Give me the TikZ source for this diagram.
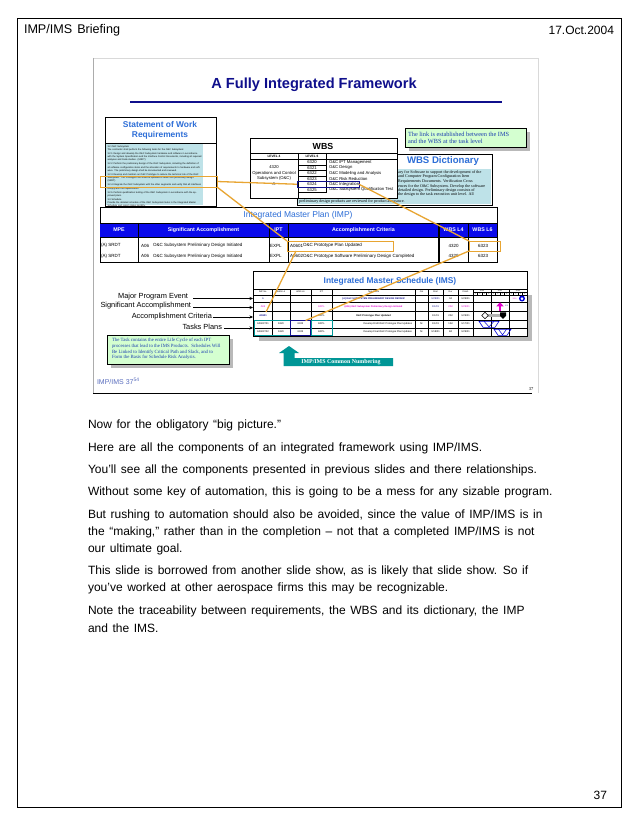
\documentclass[tikz,border=0pt]{standalone}
\usepackage{fontspec}
\setmainfont{Liberation Sans}
\newfontfamily\serifF{Liberation Serif}
\usetikzlibrary{calc,arrows.meta,shapes.geometric}
\definecolor{navyT}{RGB}{15,15,140}
\definecolor{blueT}{RGB}{45,110,215}
\definecolor{orangeL}{RGB}{232,165,50}
\definecolor{tealA}{RGB}{0,150,150}
\definecolor{tealL}{RGB}{190,226,232}
\definecolor{greenC}{RGB}{212,255,208}
\definecolor{impBlue}{RGB}{10,10,235}
\definecolor{callTxt}{RGB}{25,60,175}
\definecolor{pinkT}{RGB}{225,0,205}
\definecolor{labBlue}{RGB}{90,110,190}
\newcommand{\myfz}[1]{\fontsize{#1}{#1}\selectfont}
\newcommand{\bodyfont}{\fontsize{12}{14}\selectfont\spaceskip=4.6pt\relax}
\newcommand{\hdrfont}{\fontsize{12.6}{14}\selectfont\spaceskip=5pt\relax}
\begin{document}
\begin{tikzpicture}[x=1pt,y=-1pt,
  every node/.style={inner sep=0pt, outer sep=0pt},
  tx/.style={inner sep=0pt, outer sep=0pt},
  bx/.style={draw=black, line width=0.6pt, anchor=north west, inner sep=0pt, outer sep=0pt},
  link/.style={draw=orangeL, line width=1.3pt},
  hl/.style={draw=orangeL, line width=0.9pt, anchor=north west, inner sep=0pt, outer sep=0pt},
  lbl/.style={anchor=east, font=\myfz{7.4}},
  arr/.style={line width=0.5pt, -{Stealth[length=3.5pt,width=3pt]}},
  body/.style={anchor=west, font=\bodyfont},
  itx/.style={font=\myfz{2.5}},
  grid/.style={line width=0.35pt},
]
\path[use as bounding box] (0,0) rectangle (638,826);
\fill[white] (0,0) rectangle (638,826);

% page frame and header
\draw[line width=0.8pt] (17,18) rectangle (621,807);
\node[body, font=\hdrfont] (hdrL) at (24,30) {IMP/IMS Briefing};
\node[body, anchor=east, font=\myfz{12}] (hdrR) at (614,30) {17.Oct.2004};
\node[body, anchor=east] (pgno) at (607,795) {37};

% slide frame
\draw[gray!30, line width=0.8pt] (93,58) -- (538,58) -- (538,393);
\draw[gray!65, line width=1pt] (93,58) -- (93,393);
\draw[line width=0.8pt] (93,393) -- (532,393);
\node[tx, font=\serifF\myfz{4.5}] (slno) at (531,389) {37};

% title
\node[tx, font=\bfseries\myfz{14.6}, text=navyT] (title) at (314,85) {A Fully Integrated Framework};
\draw[navyT, line width=1.6pt] (130,102) -- (502,102);

% Statement of work
\node[bx, fill=white, minimum width=111pt, minimum height=89pt] (sow) at (105,117) {};
\node[tx, font=\bfseries\fontsize{8.4}{9.8}\selectfont, text=blueT, align=center] (sowt) at (160,130) {Statement of Work\\Requirements};
\draw[line width=0.6pt] (105,143) -- (216,143);
\fill[tealL] (106,144) rectangle (203,205);
\node[tx, anchor=north west, text width=94pt, align=left, font=\fontsize{2.35}{3.15}\selectfont] (sowtxt) at (107.5,145.5) {3.2 O\&C Subsystem\par
The contractor shall perform the following tasks for the O\&C Subsystem:\par\vspace{1pt}
3.2.1 Design and develop the O\&C Subsystem hardware and software in accordance with the System Specification and the Interface Control Documents, including all required analyses and trade studies. (SRDT)\par\vspace{1pt}
3.2.2 Perform the preliminary design of the O\&C Subsystem, including the definition of all software configuration items and the allocation of requirements to hardware and software. The preliminary design shall be documented and reviewed.\par\vspace{1pt}
3.2.3 Develop and maintain an O\&C Prototype to reduce the technical risk of the O\&C Subsystem. The Prototype Plan shall be updated to reflect the preliminary design. (SRDT)\par\vspace{1pt}
3.2.4 Integrate the O\&C Subsystem with the other segments and verify that all interfaces comply with the requirements.\par\vspace{1pt}
3.2.5 Perform qualification testing of the O\&C Subsystem in accordance with the approved plans.\par\vspace{1pt}
3.3 Schedule\par
Provide the detailed schedule of the O\&C Subsystem tasks in the Integrated Master Schedule and report status monthly.};
\node[hl, minimum width=117pt, minimum height=11pt] (sowhl) at (100,176) {};

% WBS dictionary (behind WBS)
\node[bx, fill=white, minimum width=195pt, minimum height=51pt] (dict) at (297,154) {};
\fill[tealL] (298,169) rectangle (491,204.4);
\node[tx, font=\bfseries\myfz{9.6}, text=blueT] (dictt) at (443,161) {WBS Dictionary};
\begin{scope}[every node/.style={inner sep=0pt, anchor=west, font=\serifF\myfz{4.1}}]
\node (d1) at (398,172) {ary for Software to support the development of the};
\node (d2) at (398,177) {and Computer Program Configuration Item};
\node (d3) at (398,181.5) {Requirements Documents. Verification Cross};
\node (d4) at (398,186) {ences for the O\&C Subsystem. Develop the software};
\node (d5) at (398,190.5) {detailed design. Preliminary design consists of};
\node (d6) at (398,195) {the design to the task execution unit level. All};
\node (d7) at (299,201.3) {preliminary design products are reviewed for product assurance.};
\end{scope}

% WBS
\node[bx, fill=white, minimum width=147pt, minimum height=60pt] (wbs) at (250,138) {};
\node[tx, font=\bfseries\myfz{8.8}] (wbst) at (323,146) {WBS};
\draw[line width=0.6pt] (250,153) -- (397,153);
\draw[line width=0.6pt] (250,159) -- (397,159);
\draw[line width=0.6pt] (298,153) -- (298,198);
\draw[line width=0.6pt] (326,153) -- (326,159);
\node[tx, font=\bfseries\myfz{3.2}] (wl4) at (274,156) {LEVEL 4};
\node[tx, font=\bfseries\myfz{3.2}] (wl6) at (312,156) {LEVEL 6};
\node[tx, font=\fontsize{4.2}{5.5}\selectfont, align=center, anchor=north] (wl4t) at (274,166) {4320\\Operations and Control\\Subsystem (O\&C)\\A};
\foreach \c/\d [count=\i] in {6320/O\&C IPT Management, 6321/O\&C Design, 6322/O\&C Modeling and Analysis, 6323/O\&C Risk Reduction, 6324/O\&C Integration, 6325/O\&C Subsystem Qualification Test}{
  \pgfmathsetmacro{\yy}{159.5+5.5*\i}
  \draw[line width=0.5pt] (298,\yy) -- (326,\yy) -- (326,\yy-5.5);
  \node[tx, font=\myfz{4.2}] (wc\i) at (312,\yy-2.75) {\c};
  \node[tx, anchor=west, font=\myfz{4.2}] (wd\i) at (329,\yy-2.75) {\d};
}
\node[draw=navyT, line width=0.8pt, anchor=north west, minimum width=62pt, minimum height=5.5pt] (w6323) at (297,181.5) {};

% callout top right
\fill[gray!55] (409,132) rectangle (530,151);
\node[bx, fill=greenC, minimum width=121pt, minimum height=19pt] (call1) at (405,128) {};
\node[tx, anchor=west, align=left, font=\serifF\fontsize{6.3}{7.2}\selectfont, text=callTxt] (call1t) at (408,137.5) {The link is established between the IMS\\and the WBS at the task level};

% IMP
\node[bx, fill=white, minimum width=397pt, minimum height=55pt] (imp) at (100,207) {};
\node[tx, font=\myfz{8.5}, text=blueT] (impt) at (298,215.5) {Integrated Master Plan (IMP)};
\fill[impBlue] (100,223) rectangle (497,237);
\draw[line width=0.6pt] (100,223) -- (497,223);
\draw[line width=0.6pt] (100,237) -- (497,237);
\foreach \x in {138,269,288,468} \draw[line width=0.6pt] (\x,223) -- (\x,262);
\draw[line width=1.4pt] (439,223) -- (439,262);
\foreach \x/\t [count=\i] in {119/MPE, 203.5/Significant Accomplishment, 278.5/IPT, 363.5/Accomplishment Criteria, 453.5/WBS L4, 482.5/WBS L6}
  \node[tx, text=white, font=\bfseries\myfz{5.3}] (imph\i) at (\x,230) {\t};
\begin{scope}[every node/.style={inner sep=0pt, font=\myfz{4.5}}]
\foreach \y/\a/\b [count=\i] in {245.5/A0601/O\&C Prototype Plan Updated, 256/A0602/O\&C Prototype Software Preliminary Design Completed}{
  \node[anchor=west] (ip\i a) at (101,\y) {(A) SRDT};
  \node[anchor=west] (ip\i b) at (141,\y) {A06};
  \node[anchor=west] (ip\i c) at (153,\y) {O\&C Subsystem Preliminary Design Initiated};
  \node[anchor=west] (ip\i d) at (270,\y) {EXPL};
  \node[anchor=west] (ip\i e) at (290,\y) {\a};
  \node[anchor=west] (ip\i f) at (303,\y) {\b};
  \node (ip\i g) at (453.5,\y) {4320};
  \node (ip\i h) at (483,\y) {6323};
}
\end{scope}
\node[hl, minimum width=106pt, minimum height=10pt] (a0601hl) at (287,241) {};
\node[hl, minimum width=31pt, minimum height=10pt] (l6hl) at (469,241) {};

% IMS
\fill[gray!55] (259,295) rectangle (532,341);
\node[bx, fill=white, minimum width=274pt, minimum height=65pt] (ims) at (253,271) {};
\node[tx, font=\bfseries\myfz{8.4}, text=blueT] (imst) at (390,281) {Integrated Master Schedule (IMS)};
\foreach \y in {289,295,302,311,320,328} \draw[grid] (253,\y) -- (527,\y);
\foreach \x in {272,290,311,332,415,428,443,458,473,491,509} \draw[grid] (\x,289) -- (\x,336);
\draw[grid] (473,292) -- (527,292);
\foreach \k in {1,2,3,5,6,7,9,10,11} \draw[line width=0.2pt] (473+4.5*\k,292) -- (473+4.5*\k,295);
\foreach \x/\t [count=\i] in {482/2000, 500/2001, 518/2002} \node[tx, font=\myfz{1.9}] (gy\i) at (\x,290.6) {\t};
\foreach \k in {0,...,11}{
  \pgfmathtruncatemacro{\q}{mod(\k,4)+1}
  \node[tx, font=\myfz{1.8}] (gq\k) at (475.25+4.5*\k,293.6) {\q};
}
\foreach \x/\t [count=\i] in {263/IMP No., 281/WBS L4, 300.5/WBS L6, 321.5/IPT, 373.5/Task Name, 421.5/Cat, 435.5/Start, 450.5/Dur, 465.5/Finish}
  \node[tx, font=\myfz{2.2}] (ih\i) at (\x,292) {\t};
% row 1
\node[tx, itx, text=navyT] (i1a) at (263,298.5) {A};
\node[tx, font=\bfseries\myfz{2.4}, text=navyT] (i1t) at (373.5,298.5) {(A) O\&C SUBSYSTEM PRELIMINARY DESIGN REVIEW};
\node[tx, itx, text=navyT] (i1s) at (435.5,298.5) {1/29/01};
\node[tx, itx] (i1d) at (450.5,298.5) {0d};
\node[tx, itx] (i1f) at (465.5,298.5) {1/29/01};
% row 2
\node[tx, itx, text=pinkT] (i2a) at (263,306.5) {A06};
\node[tx, itx, text=pinkT] (i2i) at (321.5,306.5) {EXPL};
\node[tx, font=\bfseries\myfz{2.4}, text=pinkT] (i2t) at (373.5,306.5) {(A06) O\&C Subsystem Preliminary Design Initiated};
\node[tx, itx, text=navyT] (i2s) at (435.5,306.5) {1/1/01};
\node[tx, itx, text=pinkT] (i2d) at (450.5,306.5) {20d};
\node[tx, itx, text=pinkT] (i2f) at (465.5,306.5) {1/29/01};
% row 3
\node[tx, font=\bfseries\myfz{2.5}, text=navyT] (i3a) at (263,315.5) {A0601};
\node[tx, itx] (i3i) at (321.5,315.5) {EXPL};
\node[tx, font=\bfseries\myfz{2.5}] (i3t) at (373.5,315.5) {O\&C Prototype Plan Updated};
\node[tx, itx] (i3s) at (435.5,315.5) {1/1/01};
\node[tx, itx] (i3d) at (450.5,315.5) {20d};
\node[tx, itx] (i3f) at (465.5,315.5) {1/29/01};
% rows 4,5
\foreach \y/\a/\t/\s/\d/\f [count=\i from 4] in {324/A0601T01/Develop Draft O\&C Prototype Plan Updates/{1/1/01}/12d/{1/17/01}, 332/A0601T02/Develop Final O\&C Prototype Plan Updates/{1/18/01}/8d/{1/29/01}}{
  \node[tx, itx] (i\i a) at (263,\y) {\a};
  \node[tx, itx] (i\i b) at (281,\y) {6320};
  \node[tx, itx] (i\i c) at (300.5,\y) {6323};
  \node[tx, itx] (i\i e) at (321.5,\y) {EXPL};
  \node[tx, itx, anchor=east] (i\i t) at (412,\y) {\t};
  \node[tx, itx] (i\i m) at (421.5,\y) {M};
  \node[tx, itx] (i\i s) at (435.5,\y) {\s};
  \node[tx, itx] (i\i d) at (450.5,\y) {\d};
  \node[tx, itx] (i\i f) at (465.5,\y) {\f};
}
\node[draw=tealA, line width=0.7pt, anchor=north west, minimum width=36pt, minimum height=15pt] (imsT1) at (254,320.5) {};
\node[draw=navyT, line width=0.7pt, anchor=north west, minimum width=20pt, minimum height=15pt] (imsN) at (290.5,320.5) {};
\node[draw=tealA, line width=0.7pt, anchor=north west, minimum width=20.5pt, minimum height=15pt] (imsT2) at (311.5,320.5) {};
\node[anchor=north west, minimum width=18pt, minimum height=9pt] (imsA) at (254,311) {};
% gantt symbols
\fill[blue!85!black] (522,298.5) circle (3);
\node[star, star points=5, star point ratio=2.2, fill=white, minimum size=3.6pt, inner sep=0pt] (gstar) at (522,298.6) {};
\node[tx, font=\myfz{1.9}, text=pinkT] (g1t) at (514.5,298.5) {1/29};
\fill[pinkT] (496.3,306.3) -- (500,302.3) -- (503.7,306.3) -- cycle;
\fill[pinkT] (498.6,306.2) rectangle (501.4,310.5);
\node[tx, font=\myfz{1.9}, text=navyT] (g2t) at (506.5,305.5) {1/1};
\fill[gray!60] (486,314) rectangle (501,317.2);
\draw[fill=white, line width=0.5pt] (485,312.3) -- (488.2,315.5) -- (485,318.7) -- (481.8,315.5) -- cycle;
\fill (500,312.3) -- (506,312.3) -- (506,315.8) -- (503,319) -- (500,315.8) -- cycle;
\draw[blue!85!black, line width=0.6pt] (479,321.3) -- (499,321.3) -- (495,327.3) -- (483,327.3) -- cycle;
\draw[blue!85!black, line width=0.5pt] (484,321.3) -- (489,326.8) -- (494,321.3);
\draw[blue!85!black, line width=0.6pt] (494,329.3) -- (511,329.3) -- (507,335.3) -- (498,335.3) -- cycle;
\draw[blue!85!black, line width=0.5pt] (498.5,329.3) -- (502.5,334.8) -- (506.5,329.3);

% left labels and arrows
\node[lbl] (lMPE) at (188,296.3) {Major Program Event};
\node[lbl] (lSA) at (191,306) {Significant Accomplishment};
\node[lbl] (lAC) at (212,316.3) {Accomplishment Criteria};
\node[lbl] (lTP) at (222,327) {Tasks Plans};
\coordinate (aMPE) at (253,298.5);
\coordinate (aSA) at (253,307.5);
\coordinate (aAC) at (253,317);
\coordinate (aTP) at (253,328);
\draw[arr] ($(lMPE.east)+(5,2.2)$) -- (aMPE);
\draw[arr] ($(lSA.east)+(2,1.5)$) -- (aSA);
\draw[arr] ($(lAC.east)+(0.5,0.7)$) -- (aAC);
\draw[arr] ($(lTP.east)+(2,1)$) -- (aTP);

% callout bottom left
\fill[gray!55] (111,339) rectangle (233,368);
\node[bx, fill=greenC, minimum width=122pt, minimum height=29pt] (call2) at (107,335) {};
\node[tx, anchor=north west, align=left, font=\serifF\fontsize{4.8}{5.7}\selectfont, text=callTxt] (call2t) at (112,338.3) {The Task contains the entire Life Cycle of each IPT\\processes that lead to the IMS Products.\ \ Schedules Will\\Be Linked to Identify Critical Path and Slack, and to\\Form the Basis for Schedule Risk Analysis.};

% common numbering arrow
\fill[tealA] (283.5,366) -- (283.5,353) -- (279,353) -- (289,346) -- (299,353) -- (294.5,353) -- (294.5,358) -- (393,358) -- (393,366) -- cycle;
\node[tx, font=\serifF\bfseries\myfz{5.9}, text=white] (cnum) at (341,362.2) {IMP/IMS Common Numbering};

\node[tx, anchor=west, font=\myfz{7}, text=labBlue] (ref) at (97,381) {IMP/IMS 37\textsuperscript{54}};

% orange links
\draw[link] (sowhl.east) -- (w6323.west);
\draw[link] (sowhl.south east) -- (a0601hl.north west);
\draw[link] (w6323.east) -- (l6hl.north west);
\draw[link] ($(a0601hl.south west)+(9,0)$) -- ($(imsA.north)+(3,1)$);
\draw[link] (l6hl.south west) -- ($(imsN.north)+(5,0)$);

% body text
\node[body] (t1) at (88,425) {Now for the obligatory “big picture.”};
\node[body] (t2) at (88,448) {Here are all the components of an integrated framework using IMP/IMS.};
\node[body] (t3) at (88,470) {You’ll see all the components presented in previous slides and there relationships.};
\node[body] (t4) at (88,492.5) {Without some key of automation, this is going to be a mess for any sizable program.};
\node[body] (t5) at (88,515) {But rushing to automation should also be avoided, since the value of IMP/IMS is in};
\node[body] (t6) at (88,532) {the “making,” rather than in the completion – not that a completed IMP/IMS is not};
\node[body] (t7) at (88,549) {our ultimate goal.};
\node[body] (t8) at (88,571.5) {This slide is borrowed from another slide show, as is likely that slide show. So if};
\node[body] (t9) at (88,588.5) {you’ve worked at other aerospace firms this may be recognizable.};
\node[body] (t10) at (88,611) {Note the traceability between requirements, the WBS and its dictionary, the IMP};
\node[body] (t11) at (88,628) {and the IMS.};
\end{tikzpicture}
\end{document}
